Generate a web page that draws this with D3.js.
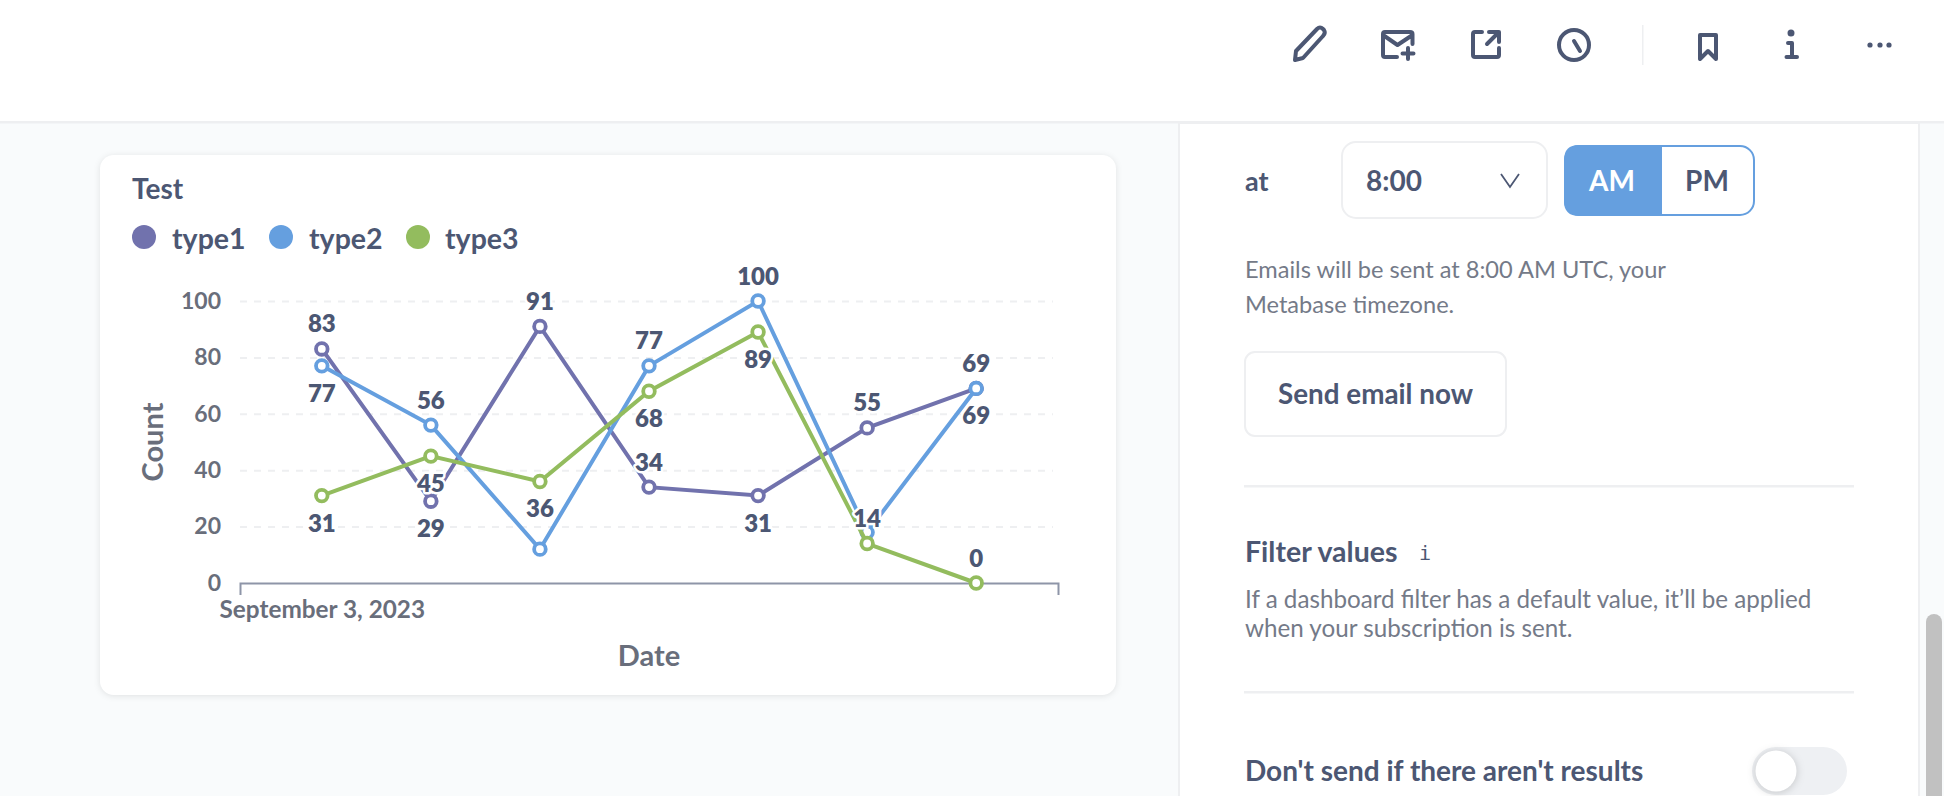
<!DOCTYPE html>
<html lang="en">

<head>
  <meta charset="utf-8">
  <title>Test</title>
  <script src="https://d3js.org/d3.v7.min.js"></script>
  <style>
    html, body { margin: 0; padding: 0; overflow: hidden; background: #f9fbfc; }
    svg { display: block; }
    text { font-family: Lato, "Open Sans", sans-serif; }
    .dark { fill: #4c5773; }
    .mid { fill: #747a88; }
    .b { font-weight: 700; }
    .b.mid { fill: #696e7b; }
    .axis text { font-family: Lato, sans-serif; font-weight: 700; fill: #696e7b; }
    .icon { fill: none; stroke: #4c5773; stroke-width: 4; stroke-linecap: round; stroke-linejoin: round; }
    .value { font-weight: 800; font-size: 24px; fill: #4c5773; stroke: #fff; stroke-width: 5px; paint-order: stroke; stroke-linejoin: round; text-anchor: middle; }
  </style>
</head>

<body>
  <div id="chart"></div>

  <script type="text/javascript">
    "use strict"

    const dates = ["September 3, 2023", "September 4, 2023", "September 5, 2023", "September 6, 2023",
                   "September 7, 2023", "September 8, 2023", "September 9, 2023"];
    const type1 = [83, 29, 91, 34, 31, 55, 69];
    const type2 = [77, 56, 12, 77, 100, 18, 69];
    const type3 = [31, 45, 36, 68, 89, 14, 0];
    const names = ["type1", "type2", "type3"];
    const yTicks = [0, 20, 40, 60, 80, 100];
    const xTicks = [dates[0]];

    // which side each value label sits on: 1 above, -1 below, 0 no label
    const sides1 = [1, -1, 1, 1, -1, 1, -1];
    const sides2 = [-1, 1, 0, 1, 1, 0, 1];
    const sides3 = [-1, -1, -1, -1, -1, 1, 1];

    const colors = ["#7172ad", "#659fdf", "#93bc5e"];
    const series = [type1, type2, type3];
    const sides = [sides1, sides2, sides3];

    const svg = d3.select("#chart").append("svg")
      .attr("width", 1944)
      .attr("height", 796);

    function label(x, y, txt, cls, size, anchor) {
      return svg.append("text")
        .attr("x", x).attr("y", y)
        .attr("class", cls)
        .attr("font-size", size)
        .attr("text-anchor", anchor || "start")
        .text(txt);
    }

    function box(x, y, w, h, r, fill, stroke, sw) {
      return svg.append("rect")
        .attr("x", x).attr("y", y).attr("width", w).attr("height", h).attr("rx", r)
        .attr("fill", fill).attr("stroke", stroke || "none").attr("stroke-width", sw || 0);
    }

    /* page frame */
    box(0, 0, 1944, 122, 0, "#fff");
    box(0, 121, 1944, 2.5, 0, "#eeeff1");
    box(1179, 123, 740, 700, 0, "#fff", "#eeeff1", 2);

    /* header icons */
    const icons = svg.append("g").attr("class", "icon");
    icons.append("path").attr("d", "M1295,60 L1296,51 L1317,29 Q1320,26 1323,29 L1324,30 Q1326,33 1323,36 L1303,58 Z");
    icons.append("path").attr("d", "M1412.5,44 V34 Q1412.5,32 1410,32 H1385 Q1383,32 1383,34 V55 Q1383,57 1385,57 H1397 M1383,35 L1397.5,45 L1412.5,35");
    icons.append("path").attr("d", "M1408,48 V59 M1402.5,53.5 H1413.5");
    icons.append("path").attr("d", "M1482,32 H1475 Q1473,32 1473,34 V55 Q1473,57 1475,57 H1497 Q1499,57 1499,55 V48 M1487,44 L1498,33 M1489,32 H1499 V42");
    icons.append("circle").attr("cx", 1574).attr("cy", 45).attr("r", 15);
    icons.append("path").attr("d", "M1574,41 L1580,51");
    icons.append("path").attr("d", "M1700,35 H1716 V59 L1708,51 L1700,59 Z");
    icons.append("path").attr("d", "M1788,43 H1792 V57 M1786.5,57 H1797");
    icons.append("circle").attr("cx", 1791).attr("cy", 33).attr("r", 1.5).attr("fill", "#4c5773");
    [1870, 1880, 1889].forEach(x => svg.append("circle").attr("cx", x).attr("cy", 45).attr("r", 2.6).attr("fill", "#4c5773"));
    box(1642, 25, 1.5, 40, 0, "#eeeff1");

    /* card */
    box(100, 155, 1016, 540, 14, "#fff").style("filter", "drop-shadow(0 1px 3px rgba(0,0,0,0.10))");

    label(132, 199, "Test", "dark b", 28);

    /* legend */
    const legendCx = [144, 281, 418];
    const legendTx = [172, 309, 445];
    names.forEach((n, i) => {
      svg.append("circle").attr("cx", legendCx[i]).attr("cy", 237).attr("r", 12).attr("fill", colors[i]);
      label(legendTx[i], 249, n, "dark b", 28.5);
    });

    /* scales */
    const x = d3.scalePoint().domain(dates).range([240, 1058]).padding(0.75);
    const y = d3.scaleLinear().domain([0, 100]).range([583, 301]);

    /* grid */
    const grid = svg.append("g").attr("transform", "translate(240,0)")
      .call(d3.axisLeft(y).tickValues(yTicks.slice(1)).tickSize(-813).tickFormat(""));
    grid.select(".domain").remove();
    grid.selectAll("line").attr("stroke", "#eeeff1").attr("stroke-width", 2).attr("stroke-dasharray", "7 7");

    /* axes */
    svg.append("g").attr("class", "axis").attr("transform", "translate(221,0)")
      .call(d3.axisLeft(y).tickValues(yTicks).tickSize(0).tickPadding(0))
      .call(g => g.select(".domain").remove())
      .call(g => g.selectAll("text").attr("font-size", 23));

    svg.append("g").attr("class", "axis").attr("transform", "translate(0,583)")
      .call(d3.axisBottom(x).tickValues(xTicks).tickSizeInner(0).tickSizeOuter(12).tickPadding(18))
      .call(g => g.select(".domain").attr("stroke", "#8e95a8").attr("stroke-width", 2))
      .call(g => g.selectAll("text").attr("font-size", 24.3));

    label(649, 666, "Date", "mid b", 29, "middle");
    svg.append("text")
      .attr("transform", "translate(163,442) rotate(-90)")
      .attr("class", "mid b").attr("font-size", 29).attr("text-anchor", "middle")
      .text("Count");

    /* lines and points */
    const line = d3.line().x((d, i) => x(dates[i])).y(d => y(d));

    series.forEach((values, s) => {
      svg.append("path").datum(values)
        .attr("d", line)
        .attr("fill", "none")
        .attr("stroke", colors[s])
        .attr("stroke-width", 4);
      svg.append("g").selectAll("circle").data(values).enter().append("circle")
        .attr("cx", (d, i) => x(dates[i]))
        .attr("cy", d => y(d))
        .attr("r", 5.8)
        .attr("fill", "#fff")
        .attr("stroke", colors[s])
        .attr("stroke-width", 3.8);
    });

    /* value labels, white halo over the lines */
    series.forEach((values, s) => {
      const shown = values.map((v, i) => ({ v: v, date: dates[i], side: sides[s][i] })).filter(d => d.side !== 0);
      svg.append("g").selectAll("text").data(shown).enter().append("text")
        .attr("class", "value")
        .attr("x", d => x(d.date))
        .attr("y", d => y(d.v) + (d.side > 0 ? -16.5 : 36))
        .text(d => d.v);
    });

    /* schedule panel */
    label(1245, 191, "at", "dark b", 27);
    box(1342, 142, 205, 76, 14, "#fff", "#eeeff1", 2);
    label(1366, 191, "8:00", "dark b", 28);
    svg.append("path").attr("d", "M1501,174 L1510,187 L1519,174")
      .attr("fill", "none").attr("stroke", "#4c5773").attr("stroke-width", 1.8);

    box(1565, 146, 189, 69, 14, "#fff", "#659fdf", 2);
    svg.append("path").attr("d", "M1662,145 H1579 Q1564,145 1564,160 V201 Q1564,216 1579,216 H1662 Z").attr("fill", "#659fdf");
    label(1612, 191, "AM", "b", 28, "middle").attr("fill", "#fff");
    label(1707, 191, "PM", "dark b", 28, "middle");

    label(1245, 278, "Emails will be sent at 8:00 AM UTC, your", "mid", 23.6);
    label(1245, 313, "Metabase timezone.", "mid", 23.6);

    box(1245, 352, 261, 84, 10, "#fff", "#eeeff1", 2);
    label(1375.5, 404, "Send email now", "dark b", 27.8, "middle");

    box(1244, 485, 610, 2.5, 0, "#eeeff1");

    label(1245, 562, "Filter values", "dark b", 28.5);
    label(1425, 560, "i", "dark", 20, "middle").style("font-family", "'DejaVu Sans Mono', monospace");
    label(1245, 608, "If a dashboard filter has a default value, it’ll be applied", "mid", 24.2);
    label(1245, 637, "when your subscription is sent.", "mid", 24.2);

    box(1244, 691, 610, 2.5, 0, "#eeeff1");

    label(1245, 781, "Don't send if there aren't results", "dark b", 28);

    box(1752, 747, 95, 48, 24, "#eef0f3");
    svg.append("circle").attr("cx", 1776).attr("cy", 771).attr("r", 20.5)
      .attr("fill", "#fff").style("filter", "drop-shadow(0 1px 4px rgba(0,0,0,0.18))");

    /* scrollbar */
    box(1926, 614, 16, 190, 8, "#c1c1c1");
  </script>
</body>

</html>
